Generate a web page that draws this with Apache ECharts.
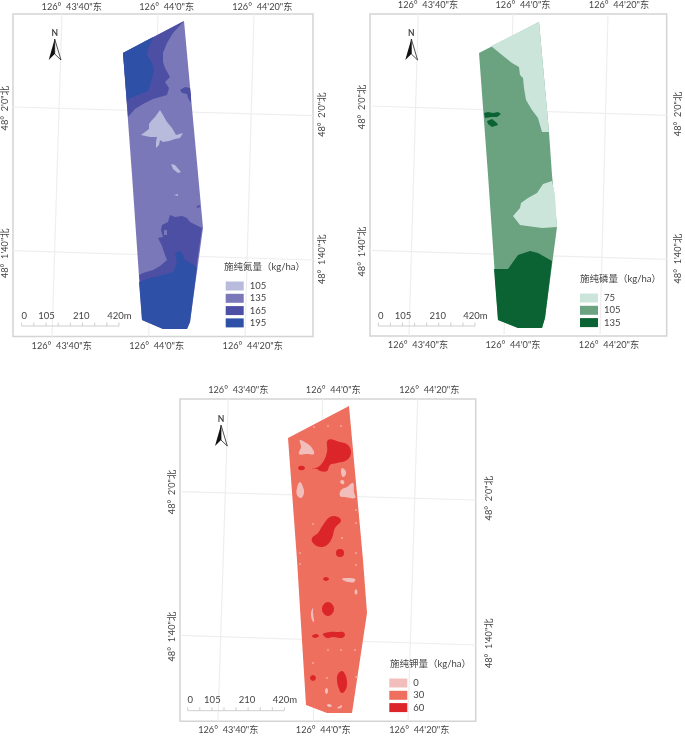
<!DOCTYPE html>
<html>
<head>
<meta charset="utf-8">
<title>施肥处方图</title>
<style>
html, body { margin: 0; padding: 0; background: #fff; }
#main { width: 685px; height: 741px; }
</style>
<script src="https://cdn.jsdelivr.net/npm/echarts@6/dist/echarts.min.js"></script>
</head>
<body>
<div id="main"></div>
<script>
var nField = [[171,7],[110,39],[119,161],[129,306],[150,315],[174,315],[177,308],[190,214]];
var n165 = [
    [[171,7],[160,19],[154,29],[150,39],[150,48],[152,54],[157,63],[152,68],[156,74],[154,81],[140,85],[130,90],[122,95],[115,103],[110,39]],
    [[167,76],[172,73],[177,74],[178,81],[178,89],[175,84],[174,80],[169,79]],
    [[183,193],[186,191],[187,191],[186,194]],
    [[189,214],[177,208],[174,204],[169,202],[162,203],[157,201],[155,208],[149,211],[148,216],[150,223],[145,224],[149,232],[152,241],[154,246],[147,252],[140,256],[130,259],[126,261],[127,268],[183,256]]
];
var n195 = [
    [[140,23],[135,36],[134,41],[139,49],[141,56],[138,68],[135,77],[125,81],[117,84],[114,88],[110,39]],
    [[126,268],[137,264],[150,261],[160,258],[164,249],[162,239],[167,237],[170,241],[172,246],[184,253],[177,308],[174,315],[150,315],[129,306]]
];
var n105 = [
    [[147,96],[150,101],[154,108],[159,114],[163,121],[170,119],[167,124],[162,125],[156,127],[150,128],[147,126],[146,131],[143,134],[143,128],[144,123],[137,123],[128,121],[132,118],[136,115],[136,110],[139,106],[142,103]],
    [[158,150],[162,151],[168,158],[165,159],[160,155]],
    [[161,181],[165,180],[165,182]]
];
var n135Notch = [[[151,216],[154,216],[154,221],[151,221]]];

var pField = [[169,8],[109,39],[118,161],[128,306],[148,314],[172,314],[175,304],[187,213],[182,161],[179,118]];
var p75 = [
    [[121,32],[132,41],[142,49],[149,53],[150,61],[153,64],[154,74],[156,86],[162,96],[168,104],[172,118],[179,118],[169,8]],
    [[182,167],[173,170],[167,179],[158,184],[151,189],[150,194],[143,202],[150,211],[172,214],[187,213],[185,181]]
];
var p135 = [
    [[124,255],[138,255],[143,248],[148,241],[160,237],[168,239],[182,247],[175,304],[172,314],[148,314],[128,306]],
    [[114,99],[118,98],[123,99],[128,98],[131,100],[127,103],[122,103],[115,104]],
    [[117,107],[122,105],[127,109],[128,111],[122,113],[118,110]]
];

var kField = [[169,7],[108,39],[117,161],[126,306],[147,314],[172,314],[187,214],[183,161]];
var k0 = [
    [[120,41],[128,45],[132,49],[134,55],[127,55],[119,55],[121,48]],
    [[162,69],[165,71],[166,75],[163,78],[161,74]],
    [[160,83],[162,81],[164,82],[164,85],[162,85]],
    [[120,83],[123,88],[124,94],[121,99],[117,96],[117,89]],
    [[173,84],[174,93],[175,99],[165,98],[160,97],[161,91],[167,88]],
    [[162,180],[168,179],[175,180],[174,183],[168,183]],
    [[175,191],[177,191],[177,195],[175,195]],
    [[133,209],[133,214],[134,223],[132,221],[131,214]],
    [[145,291],[147,289],[148,293],[146,295]],
    [[147,306],[149,305],[152,307],[149,308]],
    [[157,309],[160,307],[162,306],[161,309]],
    [[175,278],[178,277],[178,279]]
];
var k60 = [
    [[148,41],[160,43],[168,46],[171,54],[167,61],[157,64],[150,66],[147,72],[140,72],[137,70],[132,70],[138,68],[143,63],[147,53]],
    [[118,69],[120,67],[123,67],[125,69],[123,71],[120,71]],
    [[150,118],[158,118],[161,122],[155,129],[152,139],[147,146],[140,148],[133,144],[132,139],[138,134],[143,126]],
    [[156,154],[157,151],[160,150],[163,151],[164,154],[163,157],[160,158],[157,157]],
    [[143,180],[146,178],[149,180],[146,182]],
    [[142,210],[144,205],[148,203],[152,205],[154,210],[152,215],[148,217],[144,215]],
    [[143,235],[150,233],[157,233],[163,233],[165,236],[162,239],[153,238],[147,239]],
    [[132,237],[136,235],[139,237],[135,239]],
    [[130,279],[133,276],[136,279],[133,282]],
    [[157,281],[158,275],[162,272],[165,275],[167,283],[166,290],[162,294],[159,290]]
];
var kSpecks = [[133,125],[162,139],[176,111],[176,124],[176,154],[176,166],[120,154],[120,165],[148,251],[161,251],[175,251],[133,264],[147,279],[134,28],[148,27],[161,27]];

// legend classes
var nClasses = ['105', '135', '165', '195'];
var pClasses = ['75', '105', '135'];
var kClasses = ['0', '30', '60'];
var nColors = ['#b9bbdd', '#7b78b9', '#4c4fa4', '#2f50a7'];
var pColors = ['#cbe5db', '#6ba381', '#0b6334'];
var kColors = ['#f2bebb', '#ee6f5e', '#dc2528'];

var lonLabels = ["126°  43'40\"东", "126°  44'0\"东", "126°  44'20\"东"];
var latLabels = ["48°  2'0\"北", "48°  1'40\"北"];
var scaleTicks = [0, 52.5, 105, 157.5, 210, 262.5, 315, 367.5, 420];
var scaleLabels = { 0: '0', 105: '105', 210: '210', 420: '420m' };
// the printed labels do not sit right over their ticks
var scaleLabelShift = { 0: 2.5, 105: 0.5, 210: 11, 420: 0.5 };

var TEXT = '#444';
var FONT = 'Lato, "Noto Sans CJK SC", sans-serif';

var panels = [
    {
        rect: [13, 14, 300, 322.5],
        lon: [[49, 39], [145, 135.7], [241, 232]],
        lat: [[93, 101.7], [236.7, 246]],
        topX: [58.7, 153.7, 249.3], bottomX: [48.7, 143.7, 239.7], topY: -7, bottomY: 332,
        leftX: -7.7, leftY: [94.3, 239.3], rightX: 309, rightY: [100.7, 245.3],
        north: [41.7, 25], scale: [8.7, 312, 97.3], title: '施纯氮量（kg/ha）', titleAt: [224, 262], legendAt: [225.7, 280]
    },
    {
        rect: [370, 14, 296.7, 322],
        lon: [[48.3, 39], [143, 134], [238, 230]],
        lat: [[92, 101.3], [236.3, 245.3]],
        topX: [58, 153, 249], bottomX: [48, 143, 239], topY: -8.7, bottomY: 331,
        leftX: -8.3, leftY: [93, 237.7], rightX: 308.3, rightY: [100, 244.7],
        north: [41.3, 25], scale: [8.3, 312, 96.7], title: '施纯磷量（kg/ha）', titleAt: [580, 274], legendAt: [580, 292]
    },
    {
        rect: [180, 399, 295.7, 322.3],
        lon: [[48.3, 38], [142.7, 133.3], [237.7, 228]],
        lat: [[92.7, 101], [236.3, 246]],
        topX: [58.3, 153.3, 249.3], bottomX: [48.3, 143.3, 239.3], topY: -8.7, bottomY: 331,
        leftX: -7.7, leftY: [93, 237.7], rightX: 309.3, rightY: [99.3, 244.3],
        north: [41, 26], scale: [7.7, 311.7, 96.7], title: '施纯钾量（kg/ha）', titleAt: [390, 659], legendAt: [389.3, 677]
    }
];

function polySeries(idx, name, color, polys, smooth) {
    return {
        type: 'custom',
        name: name,
        xAxisIndex: idx,
        yAxisIndex: idx,
        silent: true,
        itemStyle: { color: color },
        encode: { x: 0, y: 1 },
        data: polys.map(function (p) { return p[0]; }),
        renderItem: function (params, api) {
            var pts = polys[params.dataIndex].map(function (q) { return api.coord(q); });
            return { type: 'polygon', shape: { points: pts, smooth: smooth || 0 }, style: { fill: color } };
        }
    };
}

// graticule, under the field
function gridLines(idx) {
    var p = panels[idx], w = p.rect[2], h = p.rect[3];
    var segs = p.lon.map(function (v) { return [[v[0], 0], [v[1], h]]; })
        .concat(p.lat.map(function (v) { return [[0, v[0]], [w, v[1]]]; }));
    return {
        type: 'custom', xAxisIndex: idx, yAxisIndex: idx, silent: true,
        encode: { x: 0, y: 1 },
        data: segs.map(function (s) { return s[0]; }),
        renderItem: function (params, api) {
            var s = segs[params.dataIndex], a = api.coord(s[0]), b = api.coord(s[1]);
            return { type: 'line', shape: { x1: a[0], y1: a[1], x2: b[0], y2: b[1] }, style: { stroke: '#eeeeee', lineWidth: 1.2 } };
        }
    };
}

function txt(text, at, size, rot, align, weight) {
    return {
        type: 'text', x: at[0], y: at[1], rotation: rot || 0,
        style: {
            text: text, fill: TEXT, align: align || 'center', verticalAlign: 'middle',
            font: (weight || 'normal') + ' ' + size + 'px ' + FONT
        }
    };
}

// coordinate labels round the frame
function coordLabels(idx) {
    var p = panels[idx], items = [];
    lonLabels.forEach(function (t, i) {
        items.push({ t: t, at: [p.topX[i], p.topY], r: 0 });
        items.push({ t: t, at: [p.bottomX[i], p.bottomY], r: 0 });
    });
    latLabels.forEach(function (t, i) {
        items.push({ t: t, at: [p.leftX, p.leftY[i]], r: Math.PI / 2 });
        items.push({ t: t, at: [p.rightX, p.rightY[i]], r: Math.PI / 2 });
    });
    return {
        type: 'custom', xAxisIndex: idx, yAxisIndex: idx, silent: true, clip: false,
        encode: { x: 0, y: 1 },
        data: items.map(function (d) { return d.at; }),
        renderItem: function (params, api) {
            var d = items[params.dataIndex];
            return txt(d.t, api.coord(d.at), 9.2, d.r);
        }
    };
}

function scaleBar(idx) {
    var s = panels[idx].scale, perMetre = s[2] / 420;
    return {
        type: 'custom', xAxisIndex: idx, yAxisIndex: idx, silent: true,
        encode: { x: 0, y: 1 },
        data: scaleTicks.map(function (m) { return [s[0] + m * perMetre, s[1]]; }),
        renderItem: function (params, api) {
            var m = scaleTicks[params.dataIndex];
            var a = api.coord([s[0] + m * perMetre, s[1]]);
            var line = { stroke: '#cfcfcf', lineWidth: 1 };
            var kids = [{ type: 'line', shape: { x1: a[0], y1: a[1], x2: a[0], y2: a[1] - 3.5 }, style: line }];
            if (m === 0) {
                kids.push({ type: 'line', shape: { x1: a[0], y1: a[1], x2: a[0] + s[2], y2: a[1] }, style: line });
            }
            if (scaleLabels[m]) {
                kids.push(txt(scaleLabels[m], [a[0] + scaleLabelShift[m], a[1] - 10.5], 9.5));
            }
            return { type: 'group', children: kids };
        }
    };
}

function northArrow(idx) {
    var n = panels[idx].north;
    return {
        type: 'custom', xAxisIndex: idx, yAxisIndex: idx, silent: true,
        encode: { x: 0, y: 1 },
        data: [n],
        renderItem: function (params, api) {
            var at = function (dx, dy) { return api.coord([n[0] + dx, n[1] + dy]); };
            return {
                type: 'group',
                children: [
                    { type: 'polygon', shape: { points: [at(0, 0), at(6.3, 21), at(0, 15)] }, style: { fill: '#fff', stroke: '#222', lineWidth: 0.8 } },
                    { type: 'polygon', shape: { points: [at(0, 0), at(-6, 21), at(0, 15)] }, style: { fill: '#111' } },
                    txt('N', at(0, -5.5), 8.5, 0, 'center', 'bold')
                ]
            };
        }
    };
}

var layers = [
    [polySeries(0, '氮 135', nColors[1], [nField]),
     polySeries(0, '氮 165', nColors[2], n165),
     polySeries(0, '氮 135b', nColors[1], n135Notch),
     polySeries(0, '氮 195', nColors[3], n195),
     polySeries(0, '氮 105', nColors[0], n105)],
    [polySeries(1, '磷 105', pColors[1], [pField]),
     polySeries(1, '磷 75', pColors[0], p75),
     polySeries(1, '磷 135', pColors[2], p135)],
    [polySeries(2, '钾 30', kColors[1], [kField]),
     polySeries(2, '钾 0', kColors[0], k0, 0.4),
     polySeries(2, '钾 60', kColors[2], k60, 0.4),
     {
         type: 'scatter', name: '钾 specks', xAxisIndex: 2, yAxisIndex: 2, silent: true,
         symbolSize: 2, itemStyle: { color: kColors[0], opacity: 0.7 }, data: kSpecks
     }]
];

var series = [];
panels.forEach(function (p, i) {
    series.push(gridLines(i));
    series = series.concat(layers[i]);
    series.push(scaleBar(i), northArrow(i), coordLabels(i));
});

function legendOf(idx, prefix, classes) {
    var at = panels[idx].legendAt;
    return {
        left: at[0], top: at[1], orient: 'vertical', padding: 0,
        itemWidth: 18, itemHeight: 9, itemGap: 0.3, icon: 'rect', selectedMode: false,
        data: classes.map(function (c) { return prefix + ' ' + c; }),
        formatter: function (name) { return name.split(' ')[1]; },
        textStyle: { color: TEXT, fontSize: 9.5, fontFamily: FONT, lineHeight: 12, padding: [0, 0, 0, 1] }
    };
}

var myChart = echarts.init(document.getElementById('main'), null, { renderer: 'canvas' });
myChart.setOption({
    animation: false,
    backgroundColor: '#fff',
    title: panels.map(function (p) {
        return {
            text: p.title, left: p.titleAt[0], top: p.titleAt[1], padding: 0,
            textStyle: { color: TEXT, fontSize: 9.5, fontWeight: 'normal', fontFamily: FONT }
        };
    }),
    legend: [legendOf(0, '氮', nClasses), legendOf(1, '磷', pClasses), legendOf(2, '钾', kClasses)],
    grid: panels.map(function (p) {
        return {
            show: true, left: p.rect[0], top: p.rect[1], width: p.rect[2], height: p.rect[3],
            borderColor: '#d4d4d4', borderWidth: 1.5, backgroundColor: '#fff'
        };
    }),
    xAxis: panels.map(function (p, i) {
        return { type: 'value', gridIndex: i, show: false, min: 0, max: p.rect[2] };
    }),
    yAxis: panels.map(function (p, i) {
        return { type: 'value', gridIndex: i, show: false, inverse: true, min: 0, max: p.rect[3] };
    }),
    series: series
});
</script>
</body>
</html>
